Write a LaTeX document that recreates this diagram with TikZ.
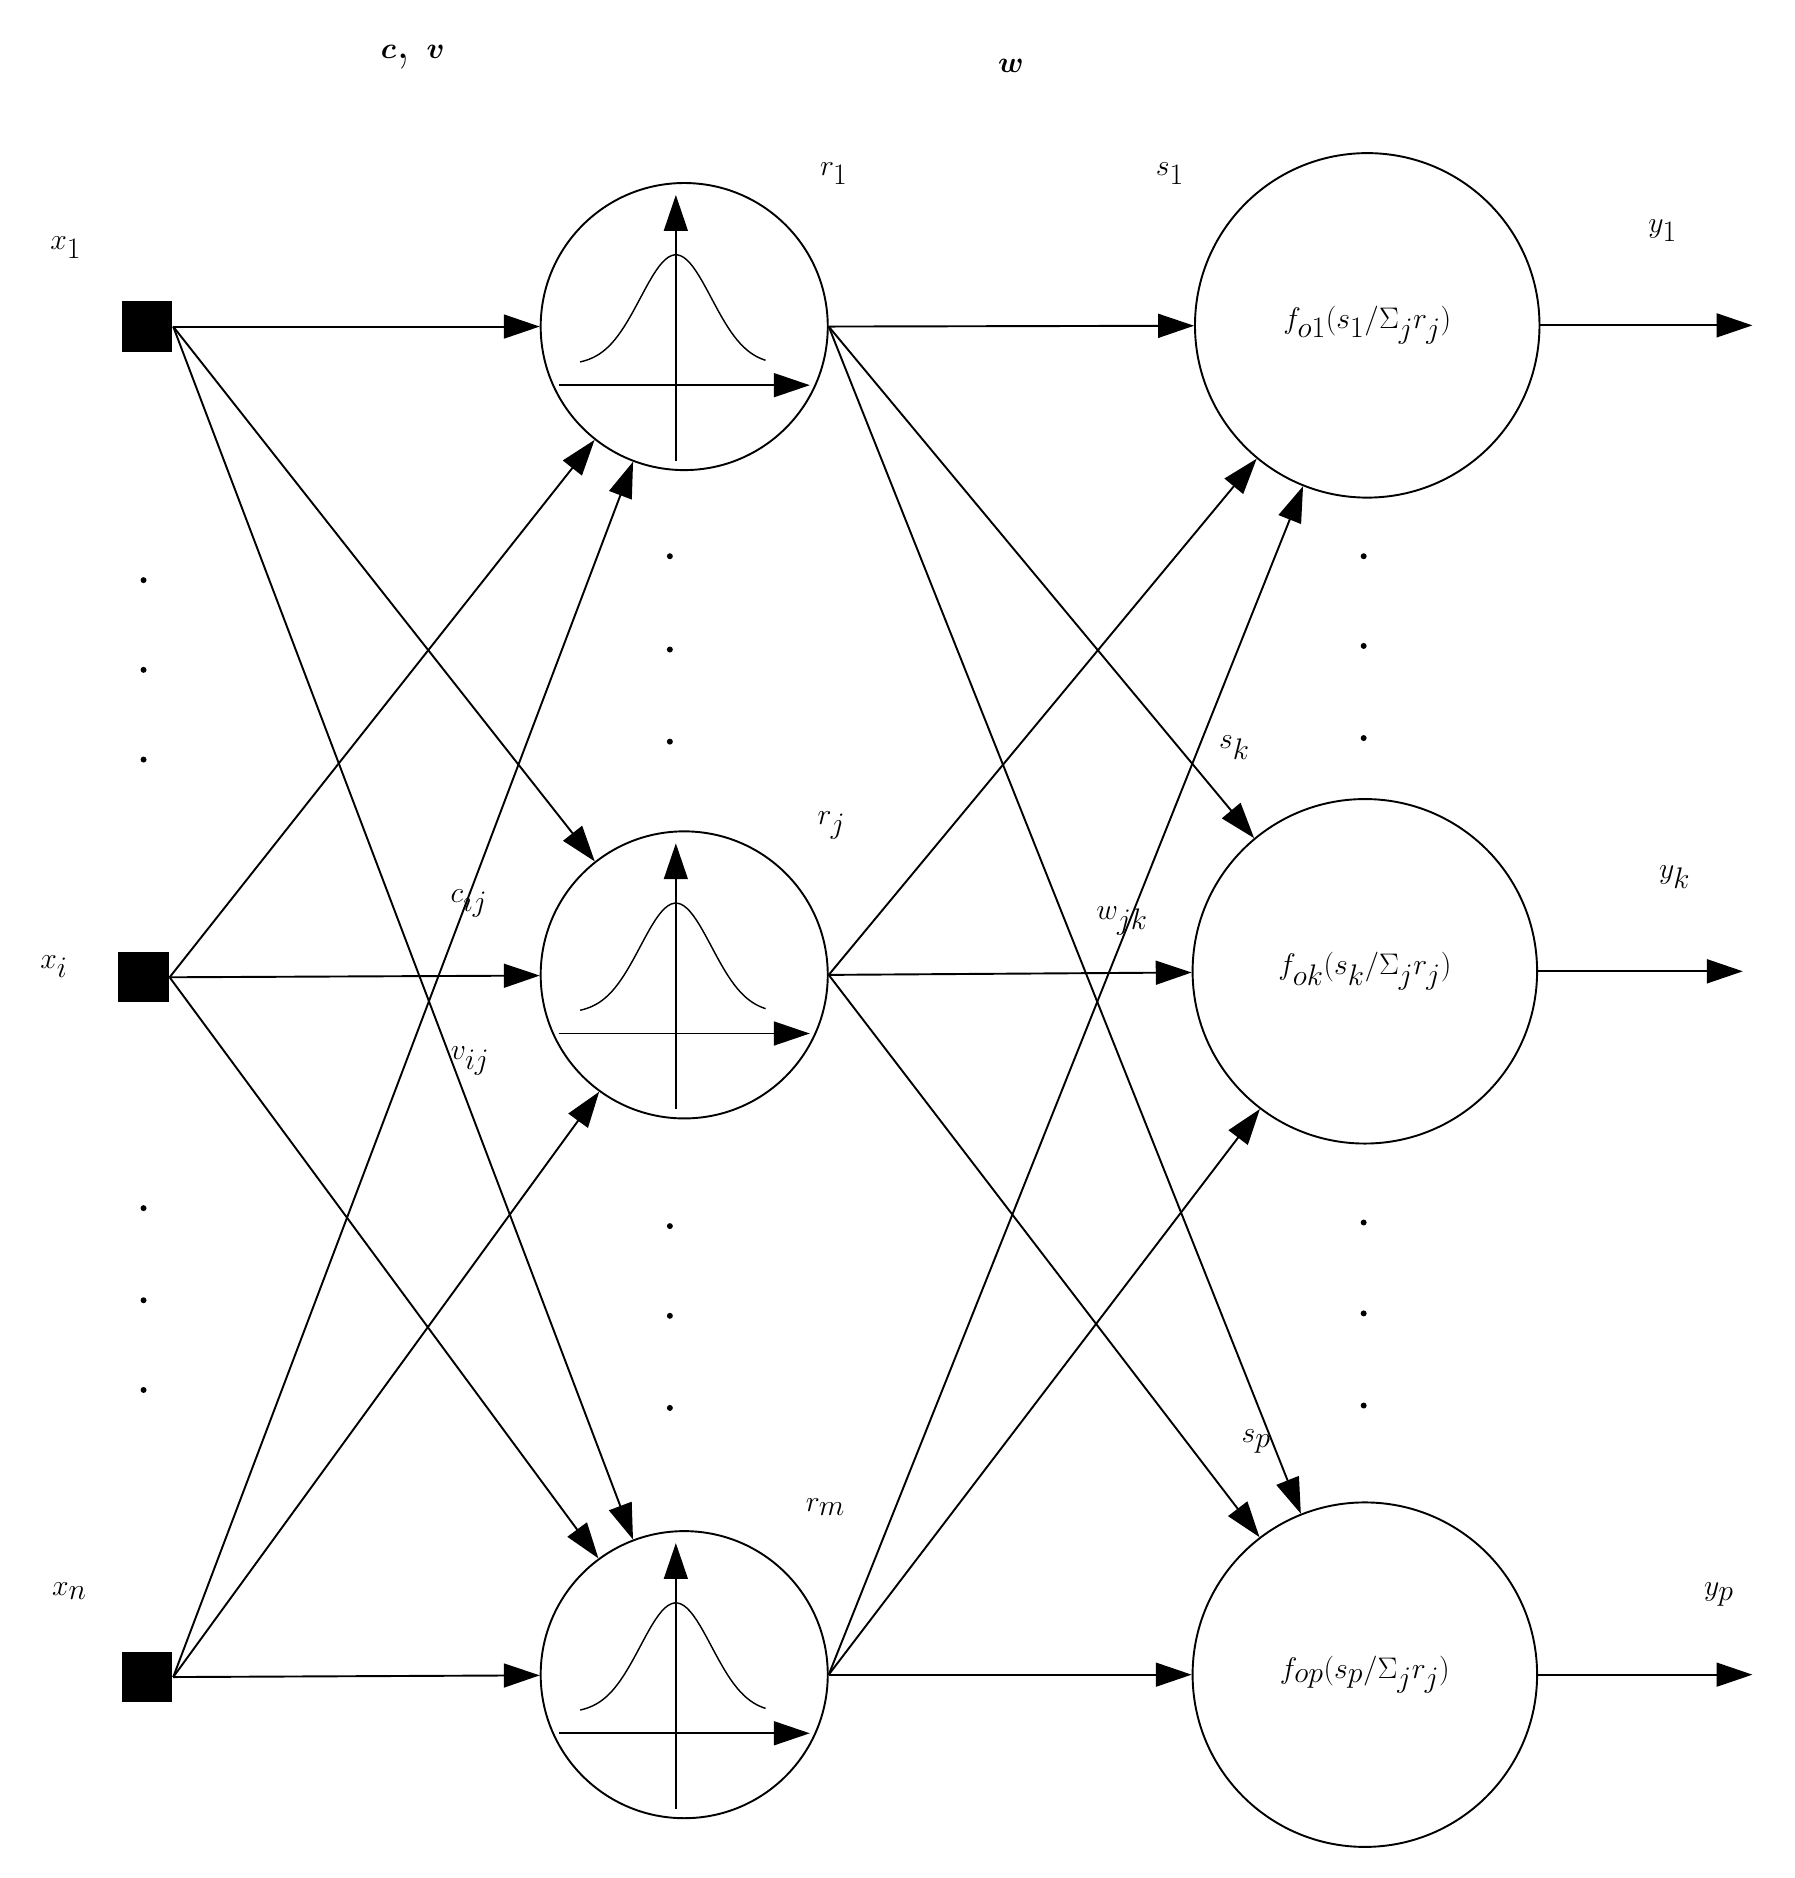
\documentclass[tikz,border=0pt]{standalone}
\usepackage{bm}
\usetikzlibrary{arrows.meta}
\begin{document}
\begin{tikzpicture}[x=1pt,y=-1pt,line width=1.6pt,
  arr/.style={-{Triangle[length=30pt,width=20pt]}},
  inp/.style={fill=black,minimum size=42pt,inner sep=0pt},
  hid/.style={circle,draw,minimum size=240pt,inner sep=0pt},
  outn/.style={circle,draw,minimum size=288pt,inner sep=0pt},
  lab/.style={font=\fontsize{46}{54}\selectfont},
  dot/.style={circle,fill=black,inner sep=0pt,minimum size=5pt}]
\useasboundingbox (0,0) rectangle (1500,1570);
\node[inp] (x1) at (123,273) {};
\node[inp] (xi) at (120,817) {};
\node[inp] (xn) at (123,1402) {};
\node[hid] (r1) at (572,273) {};
\node[hid] (rj) at (572,815) {};
\node[hid] (rm) at (572,1400) {};
\node[outn,font=\fontsize{44}{52}\selectfont] (o1) at (1143,272) {$f_{o1}(s_1/\Sigma_j r_j)$};
\node[outn,font=\fontsize{44}{52}\selectfont] (ok) at (1141,812) {$f_{ok}(s_k/\Sigma_j r_j)$};
\node[outn,font=\fontsize{44}{52}\selectfont] (op) at (1141,1400) {$f_{op}(s_p/\Sigma_j r_j)$};
\foreach \c in {273,815,1400}{
  \draw[arr,line width=1.4pt] (565,\c+112) -- (565,\c-110);
  \draw[arr,line width=1.4pt] (467,\c+49) -- (677,\c+49);
  \draw[line width=1.2pt,domain=-80:75,samples=60] plot ({565+\x},{\c+32-92*exp(-(\x/42)^2)});
}
\foreach \s in {x1,xi,xn}{
  \foreach \t in {r1,rj,rm}{ \draw[arr] (\s.east) -- (\t); }
}
\foreach \s in {r1,rj,rm}{
  \foreach \t in {o1,ok,op}{ \draw[arr] (\s.east) -- (\t); }
}
\coordinate (e1) at (1465,272);
\coordinate (ek) at (1457,812);
\coordinate (ep) at (1465,1400);
\draw[arr] (o1.east) -- (e1);
\draw[arr] (ok.east) -- (ek);
\draw[arr] (op.east) -- (ep);
\foreach \y in {485,560,635,1010,1087,1162} \node[dot] at (120,\y) {};
\foreach \y in {465,543,620,1025,1100,1177} \node[dot] at (560,\y) {};
\foreach \y in {465,540,617,1022,1098,1175} \node[dot] at (1140,\y) {};
\node[lab] (lcv) at (345,48) {$\bm{c}$, $\bm{v}$};
\node[lab] (lw) at (845,55) {$\bm{w}$};
\node[lab] (lr1) at (697,145) {$r_1$};
\node[lab] (ls1) at (978,145) {$s_1$};
\node[lab] (lx1) at (55,207) {$x_1$};
\node[lab] (ly1) at (1390,193) {$y_1$};
\node[lab] (lrj) at (695,690) {$r_j$};
\node[lab] (lsk) at (1032,625) {$s_k$};
\node[lab] (lcij) at (392,755) {$c_{ij}$};
\node[lab] (lxi) at (45,808) {$x_i$};
\node[lab] (lvij) at (393,887) {$v_{ij}$};
\node[lab] (lwjk) at (938,770) {$w_{jk}$};
\node[lab] (lyk) at (1400,733) {$y_k$};
\node[lab] (lrm) at (690,1260) {$r_m$};
\node[lab] (lsp) at (1050,1205) {$s_p$};
\node[lab] (lxn) at (58,1330) {$x_n$};
\node[lab] (lyp) at (1437,1333) {$y_p$};
\end{tikzpicture}
\end{document}
